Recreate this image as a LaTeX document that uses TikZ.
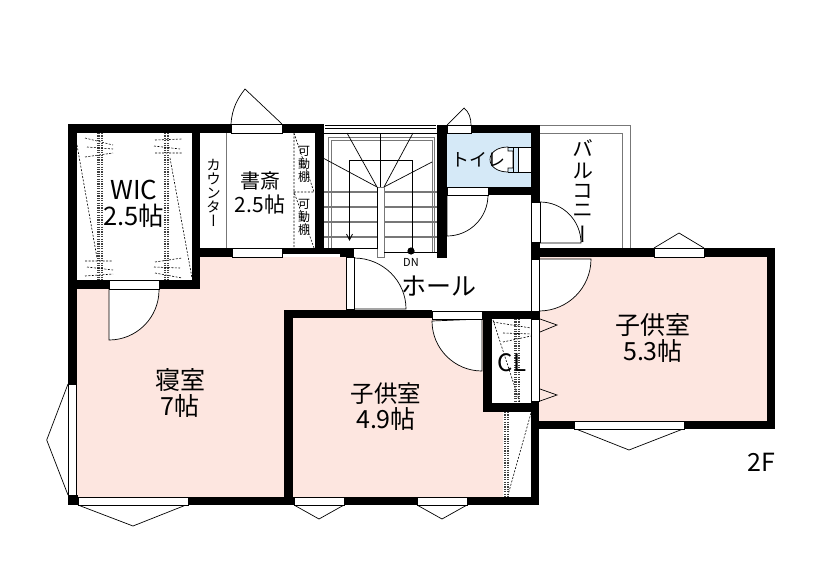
\documentclass[tikz,border=0pt]{standalone}
\usepackage{fontspec}
\setmainfont{Noto Sans CJK JP}
\newfontfamily\jpv[RawFeature=+vert]{Noto Sans CJK JP}
\definecolor{roompink}{HTML}{FDE6E0}
\definecolor{wcblue}{HTML}{D5E9F7}
\definecolor{linegrey}{HTML}{777777}
\tikzset{
 wall/.style={fill=black,draw=none},
 opening/.style={fill=white,draw=black,line width=.6pt},
 thin line/.style={draw=black,line width=.7pt},
 door/.style={fill=white,draw=black,line width=.7pt},
 greyline/.style={draw=linegrey,line width=.8pt},
 tread/.style={draw=linegrey,line width=1.3pt},
 rail/.style={draw=black!75,line width=2.2pt,dash pattern=on 1.2pt off 1.2pt},
 shortdash/.style={draw=black,line width=.6pt,dash pattern=on 2pt off 1.5pt},
 label/.style={inner sep=0pt,align=center},
}
\newcommand{\fs}[1]{\fontsize{#1}{#1}\selectfont}
\newcommand{\railpair}[3]{\draw[rail] (#1-1.6,#2)--(#1-1.6,#3); \draw[rail] (#1+1.6,#2)--(#1+1.6,#3);}
\begin{document}
\begin{tikzpicture}[x=1pt,y=-1pt]
\useasboundingbox (0,0) rectangle (818,578);
\fill[white] (0,0) rectangle (818,578);
% room fills
\fill[roompink] (77,289)--(200,289)--(200,257)--(346,257)--(346,310)--(284,310)--(284,497)--(77,497)--cycle;
\fill[roompink] (293,318)--(483,318)--(483,412)--(503,412)--(503,497)--(293,497)--cycle;
\fill[roompink] (539,257) rectangle (767,421);
\fill[wcblue] (447,133) rectangle (531,187);
% balcony
\draw[greyline] (540,125)--(630,125)--(630,248);
\draw[greyline] (540,133)--(622,133)--(622,248);
% stairs
\draw[thin line] (325,125.7)--(436,125.7) (325,128.3)--(436,128.3) (324,133)--(437,133);
\draw[greyline] (328,252)--(328,137.7)--(434,137.7)--(434,252);
\draw[greyline] (331,252)--(331,140)--(432,140)--(432,252);
\foreach \ty in {192,207,222,237} \draw[tread] (324,\ty)--(437,\ty);
\draw[thin line] (347,133)--(377,187) (413,133)--(384,187) (323,158)--(377,187) (432,162)--(384,187) (380.5,133)--(380.5,187);
\draw[fill=white,draw=linegrey,line width=.8pt] (377,187) rectangle (384,257);
\draw[thin line] (377,187)--(377,248)--(354,248);
\draw[thin line] (384,252)--(437,252);
\draw[thin line] (412,252)--(412,160)--(349.5,160)--(349.5,240);
\draw[thin line] (346.5,234)--(349.5,240)--(352.5,234);
\coordinate (dnpt) at (411,251);
\fill (dnpt) circle (3.6);
% WIC closet dashes
\railpair{100}{133}{280}
\railpair{166.5}{133}{280}
\draw[shortdash] (77,145)--(97,258) (170,158)--(192,278);
\draw[shortdash] (85,138)--(113,145) (87,147)--(113,149) (85,157)--(113,153);
\draw[shortdash] (85,261)--(113,261) (87,267)--(113,270) (85,276)--(113,274);
\draw[shortdash] (155,140)--(182,139) (154,146)--(180,149) (155,153)--(182,153);
\draw[shortdash] (155,262)--(182,258) (154,267)--(180,268) (155,273)--(182,278);
% study
\draw[greyline] (226,133)--(226,248);
\draw[shortdash] (294,133)--(294,248) (294,133)--(314,192)--(294,192)--(314,248);
% CL and lower closet dashes
\railpair{517}{319}{403}
\draw[shortdash] (493,320)--(520,403) (493,322)--(531,328) (503,333)--(531,334) (503,342)--(531,336);
\railpair{506.5}{412}{497}
\draw[shortdash] (531,413)--(508,495);
% doors (swing)
\draw[door] (109,289)--(109,340) arc[start angle=90,end angle=0,radius=50]--(159,289);
\draw[door] (482,319)--(482,371) arc[start angle=90,end angle=180,radius=50]--cycle;
\draw[door] (354,258)--(354,309)--(406,309) arc[start angle=0,end angle=-90,x radius=52,y radius=51]--cycle;
\draw[door] (539,311)--(539,259)--(591,259) arc[start angle=0,end angle=90,x radius=52,y radius=52]--cycle;
\draw[door] (447,195)--(447,236) arc[start angle=90,end angle=0,radius=41]--cycle;
\draw[door] (540,243)--(581,243) arc[start angle=0,end angle=-90,x radius=41,y radius=41]--cycle;
% outer door leaves
\draw[thin line] (231,124) .. controls (232,108) and (238,98) .. (245,89)--(282,124);
\draw[thin line] (447,125)--(464,108) .. controls (469,112) and (471,118) .. (471,125);
% window triangles
\draw[thin line] (68,384)--(46.7,440)--(68,495);
\draw[thin line] (78,505)--(133,526)--(186,505);
\draw[thin line] (294,505)--(319,519)--(344,505);
\draw[thin line] (417,505)--(442,519)--(467,505);
\draw[thin line] (576,429)--(629,450)--(683,429);
\draw[thin line] (654,248)--(679,233)--(704,248);
\draw[thin line] (540,319)--(557,325)--(540,332);
\draw[thin line] (540,389)--(557,395)--(540,401);
% toilet
\draw[thin line,fill=white] (508,147) .. controls (498,147) and (490,152) .. (490,159.5) .. controls (490,167) and (498,172) .. (508,172)--(508,168)--(513,168)--(513,151)--(508,151)--cycle;
\draw[thin line,fill=white] (518,147) rectangle (531,172);
\draw[thin line] (508,147)--(518,147) (508,172)--(518,172) (513,147)--(513,172);
% walls
\fill[wall] (68,124) rectangle (231,133);
\fill[wall] (282,124) rectangle (324,133);
\fill[wall] (68,124) rectangle (77,384);
\fill[wall] (192,133) rectangle (200,289);
\fill[wall] (68,280) rectangle (109,289);
\fill[wall] (159,280) rectangle (200,289);
\fill[wall] (200,248) rectangle (232,257);
\fill[wall] (282,248) rectangle (354,254);
\fill[wall] (340,248) rectangle (354,257);
\draw[white,line width=2pt,dash pattern=on 2pt off 1pt] (284,255.5)--(340,255.5);
\fill[wall] (315,124) rectangle (324,248);
\fill[wall] (437,125) rectangle (447,258);
\fill[wall] (471,125) rectangle (540,133);
\fill[wall] (488,187) rectangle (531,195);
\fill[wall] (531,125) rectangle (540,202);
\fill[wall] (531,242) rectangle (540,259);
\fill[wall] (540,248) rectangle (654,257);
\fill[wall] (704,248) rectangle (775,257);
\fill[wall] (767,248) rectangle (775,429);
\fill[wall] (684,421) rectangle (775,429);
\fill[wall] (539,421) rectangle (574,429);
\fill[wall] (284,310) rectangle (432,318);
\fill[wall] (482,311) rectangle (540,319);
\fill[wall] (284,310) rectangle (293,505);
\fill[wall] (483,311) rectangle (492,412);
\fill[wall] (483,403) rectangle (539,412);
\fill[wall] (531,401) rectangle (539,505);
\fill[wall] (188,497) rectangle (294,505);
\fill[wall] (467,497) rectangle (539,505);
\fill[wall] (68,495) rectangle (78,505);
\fill[wall] (344,497) rectangle (417,505);
% openings
\draw[opening] (231,124) rectangle (282,133);
\draw[opening] (232,248) rectangle (282,257);
\draw[opening] (109,280) rectangle (159,289);
\draw[opening] (68,384) rectangle (76.5,495);
\draw[opening] (78,497) rectangle (188,505);
\draw[opening] (294,497) rectangle (344,505);
\draw[opening] (417,497) rectangle (467,505);
\draw[opening] (574,421) rectangle (684,429);
\draw[opening] (654,248) rectangle (704,257);
\draw[opening] (432,311) rectangle (482,319);
\draw[opening] (346,257) rectangle (354,309);
\draw[opening] (447,125) rectangle (471,133);
\draw[opening] (447,187) rectangle (488,195);
\draw[opening] (531,202) rectangle (540,242);
\draw[opening] (531.5,259) rectangle (539,311);
\draw[opening] (531.5,319) rectangle (539,401);
% labels
\node[label] (wic) at (134,204) {\fs{26}WIC\\[3pt]\fs{25.5}2.5帖};
\node[label] (study) at (260,193) {\fs{20}書斎\\[4pt]\fs{21}2.5帖};
\node[label] (counter) at (213.5,193) {\fs{14.5}\jpv カ\\[2pt]\fs{14.5}\jpv ウ\\[2pt]\fs{14.5}\jpv ン\\[2pt]\fs{14.5}\jpv タ\\[2pt]\fs{14.5}\jpv ー};
\node[label] (shelfa) at (304,164) {\fs{12}\jpv 可\\[1pt]\fs{12}\jpv 動\\[1pt]\fs{12}\jpv 棚};
\node[label] (shelfb) at (304,217) {\fs{12}\jpv 可\\[1pt]\fs{12}\jpv 動\\[1pt]\fs{12}\jpv 棚};
\node[label] (toilet) at (478,160) {\fs{18}トイレ};
\node[label] (balcony) at (583,191) {\fs{21}\jpv バ\\[5pt]\fs{21}\jpv ル\\[5pt]\fs{21}\jpv コ\\[5pt]\fs{21}\jpv ニ\\[7pt]\fs{21}\jpv ー};
\node[label] (dn) at (411,262.5) {\fs{11}DN};
\node[label] (hall) at (439,286) {\fs{25}ホール};
\node[label] (bedroom) at (180,393) {\fs{25}寝室\\[2pt]\fs{25}7帖};
\node[label] (childa) at (386,406.5) {\fs{23.5}子供室\\[2pt]\fs{25}4.9帖};
\node[label] (childb) at (653,338) {\fs{25}子供室\\[2pt]\fs{25}5.3帖};
\node[label] (cl) at (512,363) {\fs{24}CL};
\node[label] (floor) at (761,462) {\fs{25}2F};
\end{tikzpicture}
\end{document}
